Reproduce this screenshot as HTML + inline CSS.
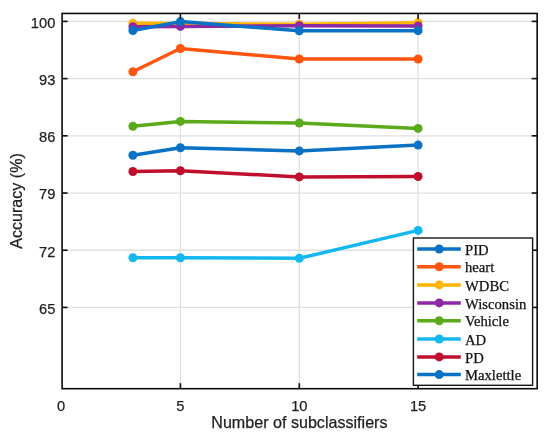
<!DOCTYPE html>
<html><head><meta charset="utf-8"><title>Accuracy vs number of subclassifiers</title>
<style>html,body{margin:0;padding:0;background:#fff;}body{width:550px;height:440px;overflow:hidden;}svg{display:block;}.t{font-family:"Liberation Sans",Arial,sans-serif;font-size:14.67px;fill:#1f1f1f;stroke:#1f1f1f;stroke-width:0.25px;}.l{font-family:"Liberation Sans",Arial,sans-serif;font-size:16.1px;fill:#1f1f1f;stroke:#1f1f1f;stroke-width:0.25px;}.g{font-family:"Liberation Serif","Times New Roman",serif;font-size:14.67px;fill:#111;stroke:#111;stroke-width:0.25px;}</style></head><body>
<svg width="550" height="440" viewBox="0 0 550 440">
<rect x="0" y="0" width="550" height="440" fill="#fff"/>
<g stroke="#e0e0e0" stroke-width="1.3" fill="none">
<line x1="180.4" y1="13.45" x2="180.4" y2="388.7"/>
<line x1="299.3" y1="13.45" x2="299.3" y2="388.7"/>
<line x1="418.1" y1="13.45" x2="418.1" y2="388.7"/>
<line x1="62.1" y1="21.40" x2="537.15" y2="21.40"/>
<line x1="62.1" y1="78.61" x2="537.15" y2="78.61"/>
<line x1="62.1" y1="135.82" x2="537.15" y2="135.82"/>
<line x1="62.1" y1="193.03" x2="537.15" y2="193.03"/>
<line x1="62.1" y1="250.24" x2="537.15" y2="250.24"/>
<line x1="62.1" y1="307.45" x2="537.15" y2="307.45"/>
</g>
<polyline points="132.9,155.3 180.4,147.7 299.3,150.9 418.1,145.1" fill="none" stroke="#0a72c4" stroke-width="3.5" stroke-linejoin="round"/>
<circle cx="132.9" cy="155.3" r="4.5" fill="#0a72c4"/>
<circle cx="180.4" cy="147.7" r="4.5" fill="#0a72c4"/>
<circle cx="299.3" cy="150.9" r="4.5" fill="#0a72c4"/>
<circle cx="418.1" cy="145.1" r="4.5" fill="#0a72c4"/>
<polyline points="132.9,71.8 180.4,48.5 299.3,59.0 418.1,59.0" fill="none" stroke="#ff550f" stroke-width="3.5" stroke-linejoin="round"/>
<circle cx="132.9" cy="71.8" r="4.5" fill="#ff550f"/>
<circle cx="180.4" cy="48.5" r="4.5" fill="#ff550f"/>
<circle cx="299.3" cy="59.0" r="4.5" fill="#ff550f"/>
<circle cx="418.1" cy="59.0" r="4.5" fill="#ff550f"/>
<polyline points="132.9,23.2 180.4,23.6 299.3,24.2 418.1,22.8" fill="none" stroke="#ffb400" stroke-width="3.5" stroke-linejoin="round"/>
<circle cx="132.9" cy="23.2" r="4.5" fill="#ffb400"/>
<circle cx="180.4" cy="23.6" r="4.5" fill="#ffb400"/>
<circle cx="299.3" cy="24.2" r="4.5" fill="#ffb400"/>
<circle cx="418.1" cy="22.8" r="4.5" fill="#ffb400"/>
<polyline points="132.9,26.7 180.4,26.4 299.3,25.8 418.1,26.0" fill="none" stroke="#8c2aa6" stroke-width="3.5" stroke-linejoin="round"/>
<circle cx="132.9" cy="26.7" r="4.5" fill="#8c2aa6"/>
<circle cx="180.4" cy="26.4" r="4.5" fill="#8c2aa6"/>
<circle cx="299.3" cy="25.8" r="4.5" fill="#8c2aa6"/>
<circle cx="418.1" cy="26.0" r="4.5" fill="#8c2aa6"/>
<polyline points="132.9,126.2 180.4,121.4 299.3,123.0 418.1,128.4" fill="none" stroke="#5aaa1c" stroke-width="3.5" stroke-linejoin="round"/>
<circle cx="132.9" cy="126.2" r="4.5" fill="#5aaa1c"/>
<circle cx="180.4" cy="121.4" r="4.5" fill="#5aaa1c"/>
<circle cx="299.3" cy="123.0" r="4.5" fill="#5aaa1c"/>
<circle cx="418.1" cy="128.4" r="4.5" fill="#5aaa1c"/>
<polyline points="132.9,257.75 180.4,257.7 299.3,258.3 418.1,230.4" fill="none" stroke="#14b8ee" stroke-width="3.5" stroke-linejoin="round"/>
<circle cx="132.9" cy="257.75" r="4.5" fill="#14b8ee"/>
<circle cx="180.4" cy="257.7" r="4.5" fill="#14b8ee"/>
<circle cx="299.3" cy="258.3" r="4.5" fill="#14b8ee"/>
<circle cx="418.1" cy="230.4" r="4.5" fill="#14b8ee"/>
<polyline points="132.9,171.5 180.4,170.8 299.3,176.9 418.1,176.5" fill="none" stroke="#c00f2d" stroke-width="3.5" stroke-linejoin="round"/>
<circle cx="132.9" cy="171.5" r="4.5" fill="#c00f2d"/>
<circle cx="180.4" cy="170.8" r="4.5" fill="#c00f2d"/>
<circle cx="299.3" cy="176.9" r="4.5" fill="#c00f2d"/>
<circle cx="418.1" cy="176.5" r="4.5" fill="#c00f2d"/>
<polyline points="132.9,30.55 180.4,21.6 299.3,30.8 418.1,30.65" fill="none" stroke="#0a72c4" stroke-width="3.5" stroke-linejoin="round"/>
<circle cx="132.9" cy="30.55" r="4.5" fill="#0a72c4"/>
<circle cx="180.4" cy="21.6" r="4.5" fill="#0a72c4"/>
<circle cx="299.3" cy="30.8" r="4.5" fill="#0a72c4"/>
<circle cx="418.1" cy="30.65" r="4.5" fill="#0a72c4"/>
<g stroke="#0d0d0d" stroke-width="1.6" fill="none">
<rect x="62.1" y="13.45" width="475.05" height="375.25"/>
<line x1="62.1" y1="21.40" x2="67.6" y2="21.40"/>
<line x1="537.15" y1="21.40" x2="531.65" y2="21.40"/>
<line x1="62.1" y1="78.61" x2="67.6" y2="78.61"/>
<line x1="537.15" y1="78.61" x2="531.65" y2="78.61"/>
<line x1="62.1" y1="135.82" x2="67.6" y2="135.82"/>
<line x1="537.15" y1="135.82" x2="531.65" y2="135.82"/>
<line x1="62.1" y1="193.03" x2="67.6" y2="193.03"/>
<line x1="537.15" y1="193.03" x2="531.65" y2="193.03"/>
<line x1="62.1" y1="250.24" x2="67.6" y2="250.24"/>
<line x1="537.15" y1="250.24" x2="531.65" y2="250.24"/>
<line x1="62.1" y1="307.45" x2="67.6" y2="307.45"/>
<line x1="537.15" y1="307.45" x2="531.65" y2="307.45"/>
<line x1="180.4" y1="13.45" x2="180.4" y2="18.95"/>
<line x1="180.4" y1="388.7" x2="180.4" y2="383.2"/>
<line x1="299.3" y1="13.45" x2="299.3" y2="18.95"/>
<line x1="299.3" y1="388.7" x2="299.3" y2="383.2"/>
<line x1="418.1" y1="13.45" x2="418.1" y2="18.95"/>
<line x1="418.1" y1="388.7" x2="418.1" y2="383.2"/>
</g>
<text class="t" x="55.3" y="27.75" text-anchor="end">100</text>
<text class="t" x="55.3" y="84.96" text-anchor="end">93</text>
<text class="t" x="55.3" y="142.17" text-anchor="end">86</text>
<text class="t" x="55.3" y="199.38" text-anchor="end">79</text>
<text class="t" x="55.3" y="256.59" text-anchor="end">72</text>
<text class="t" x="55.3" y="313.81" text-anchor="end">65</text>
<text class="t" x="61.2" y="411" text-anchor="middle">0</text>
<text class="t" x="180.4" y="411" text-anchor="middle">5</text>
<text class="t" x="299.3" y="411" text-anchor="middle">10</text>
<text class="t" x="418.1" y="411" text-anchor="middle">15</text>
<text class="l" x="299.4" y="428.3" text-anchor="middle">Number of subclassifiers</text>
<text class="l" transform="translate(22.0,201) rotate(-90)" text-anchor="middle">Accuracy (%)</text>
<rect x="413.4" y="238" width="119.2" height="147.3" fill="#fff" stroke="#161616" stroke-width="1.4"/>
<line x1="417.2" y1="249" x2="460.8" y2="249" stroke="#0a72c4" stroke-width="3.5"/>
<circle cx="439.2" cy="249" r="4.5" fill="#0a72c4"/>
<text class="g" x="465.0" y="254.6">PID</text>
<line x1="417.2" y1="266.8" x2="460.8" y2="266.8" stroke="#ff550f" stroke-width="3.5"/>
<circle cx="439.2" cy="266.8" r="4.5" fill="#ff550f"/>
<text class="g" x="465.0" y="272.4">heart</text>
<line x1="417.2" y1="284.9" x2="460.8" y2="284.9" stroke="#ffb400" stroke-width="3.5"/>
<circle cx="439.2" cy="284.9" r="4.5" fill="#ffb400"/>
<text class="g" x="465.0" y="290.5">WDBC</text>
<line x1="417.2" y1="302.9" x2="460.8" y2="302.9" stroke="#8c2aa6" stroke-width="3.5"/>
<circle cx="439.2" cy="302.9" r="4.5" fill="#8c2aa6"/>
<text class="g" x="465.0" y="308.5">Wisconsin</text>
<line x1="417.2" y1="320.7" x2="460.8" y2="320.7" stroke="#5aaa1c" stroke-width="3.5"/>
<circle cx="439.2" cy="320.7" r="4.5" fill="#5aaa1c"/>
<text class="g" x="465.0" y="326.3">Vehicle</text>
<line x1="417.2" y1="339.0" x2="460.8" y2="339.0" stroke="#14b8ee" stroke-width="3.5"/>
<circle cx="439.2" cy="339.0" r="4.5" fill="#14b8ee"/>
<text class="g" x="465.0" y="344.6">AD</text>
<line x1="417.2" y1="356.9" x2="460.8" y2="356.9" stroke="#c00f2d" stroke-width="3.5"/>
<circle cx="439.2" cy="356.9" r="4.5" fill="#c00f2d"/>
<text class="g" x="465.0" y="362.5">PD</text>
<line x1="417.2" y1="374.6" x2="460.8" y2="374.6" stroke="#0a72c4" stroke-width="3.5"/>
<circle cx="439.2" cy="374.6" r="4.5" fill="#0a72c4"/>
<text class="g" x="465.0" y="380.2">Maxlettle</text>
</svg></body></html>
